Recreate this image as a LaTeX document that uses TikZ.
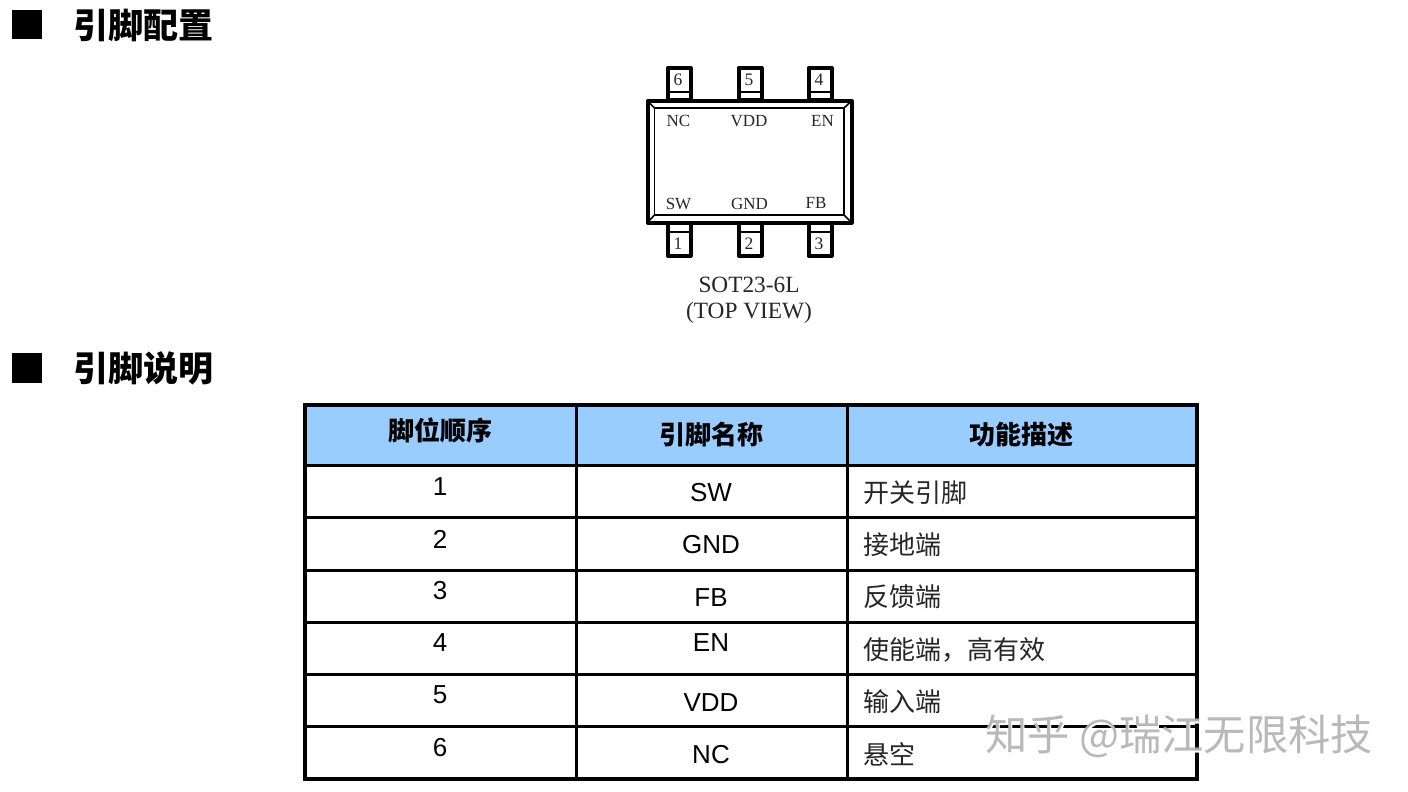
\documentclass[tikz,border=0pt]{standalone}
\usepackage{fontspec}
\setmainfont{Liberation Serif}
\newfontfamily\cjk{Noto Sans CJK SC}
\newfontfamily\arial{Liberation Sans}
\definecolor{hdr}{HTML}{99CCFF}
\tikzset{
  x=1pt,y=-1pt,
  grid/.style={draw=black,line width=3pt},
  pinbox/.style={draw=black,line width=4pt,fill=white,line join=round},
  thin/.style={draw=black,line width=1.2pt},
  pinnum/.style={font=\fontsize{17.5}{17}\selectfont,inner sep=0pt,text=black!85},
  pinname/.style={font=\fontsize{17}{17}\selectfont,inner sep=0pt,text=black!85},
  caption/.style={font=\fontsize{23.3}{23}\selectfont,inner sep=0pt,text=black!85},
  heading/.style={font=\cjk\bfseries\fontsize{35}{35}\selectfont,inner sep=0pt,anchor=west},
  bullet/.style={fill=black,draw=none,minimum size=29.5pt,inner sep=0pt},
  thead/.style={font=\cjk\bfseries\fontsize{26}{26}\selectfont,inner sep=0pt},
  tnum/.style={font=\arial\fontsize{26}{26}\selectfont,inner sep=0pt},
  tdesc/.style={font=\cjk\fontsize{26}{26}\selectfont,inner sep=0pt,anchor=west,text=black!85},
  wm/.style={font=\cjk\fontsize{42.3}{42}\selectfont,inner sep=0pt,anchor=west},
}
\begin{document}
\begin{tikzpicture}
\useasboundingbox (0,0) rectangle (1408,792);
\fill[white] (0,0) rectangle (1408,792);
% headings
\node[bullet] (b1) at (27,24.5) {};
\node[heading] (h1) at (73,25) {引脚配置};
\node[bullet] (b2) at (27,368) {};
\node[heading] (h2) at (73,368) {引脚说明};
% pins
\foreach \n/\x in {6/679,5/750,4/820}{
  \draw[pinbox] (\x-11.5,68) rectangle (\x+11.5,100);
  \draw[thin] (\x-11.5,92) -- (\x+11.5,92);
}
\foreach \n/\x in {1/679,2/750,3/820}{
  \draw[pinbox] (\x-11.5,223) rectangle (\x+11.5,255.5);
  \draw[thin] (\x-11.5,232) -- (\x+11.5,232);
}
\node[pinnum] (p6) at (678,80) {6};
\node[pinnum] (p5) at (749,80) {5};
\node[pinnum] (p4) at (819,80) {4};
\node[pinnum] (p1) at (678,244) {1};
\node[pinnum] (p2) at (749,244) {2};
\node[pinnum] (p3) at (819,244) {3};
% body
\draw[draw=black,line width=4pt,fill=white,line join=round] (647.5,101) rectangle (851.5,222.5);
\draw[draw=black,line width=1.8pt] (654.5,108) rectangle (844,215);
\draw[draw=black,line width=1.6pt] (647.5,101) -- (654.5,108) (851.5,101) -- (844,108) (647.5,222.5) -- (654.5,215) (851.5,222.5) -- (844,215);
\node[pinname] (nNC) at (678.5,121) {NC};
\node[pinname] (nVDD) at (749,121) {VDD};
\node[pinname] (nEN) at (822.5,121) {EN};
\node[pinname] (nSW) at (678.5,204) {SW};
\node[pinname] (nGND) at (749.5,204) {GND};
\node[pinname] (nFB) at (816,203) {FB};
\node[caption] (c1) at (749,285) {SOT23-6L};
\node[caption] (c2) at (749,313) {(TOP VIEW)};
% table
\fill[hdr] (305,405) rectangle (1197,465);
\foreach \y in {465,517,570,622,674,726}{
  \draw[grid] (305,\y) -- (1197,\y);
}
\draw[grid] (576,405) -- (576,779);
\draw[grid] (847,405) -- (847,779);
\draw[draw=black,line width=4.5pt] (305,405) rectangle (1197,779);
\node[thead] (t1) at (440,430) {脚位顺序};
\node[thead] (t2) at (711,435) {引脚名称};
\node[thead] (t3) at (1021,435) {功能描述};
\node[tnum] (r1a) at (440,487) {1};
\node[tnum] (r2a) at (440,539) {2};
\node[tnum] (r3a) at (440,591) {3};
\node[tnum] (r4a) at (440,643) {4};
\node[tnum] (r5a) at (440,695) {5};
\node[tnum] (r6a) at (440,748) {6};
\node[tnum] (r1b) at (711,493) {SW};
\node[tnum] (r2b) at (711,545) {GND};
\node[tnum] (r3b) at (711,597.5) {FB};
\node[tnum] (r4b) at (711,642.5) {EN};
\node[tnum] (r5b) at (711,702.5) {VDD};
\node[tnum] (r6b) at (711,754.5) {NC};
\node[tdesc] (r1c) at (863,493) {开关引脚};
\node[tdesc] (r2c) at (863,545) {接地端};
\node[tdesc] (r3c) at (863,597) {反馈端};
\node[tdesc] (r4c) at (863,650) {使能端，高有效};
\node[tdesc] (r5c) at (863,702) {输入端};
\node[tdesc] (r6c) at (863,754) {悬空};
% watermark
\node[wm,text=white] (w0) at (986,738.5) {知乎 @瑞江无限科技};
\node[wm,text=black!30,opacity=.9] (w1) at (985,736.5) {知乎 @瑞江无限科技};
\end{tikzpicture}
\end{document}
